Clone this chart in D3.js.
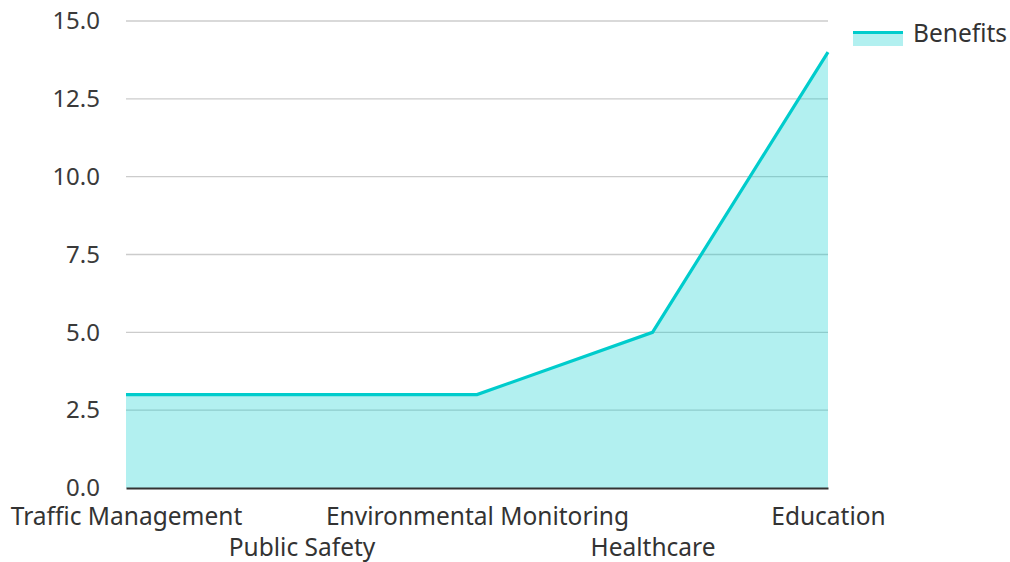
<!DOCTYPE html>
<html><head><meta charset="utf-8">
<script src="https://cdn.jsdelivr.net/npm/d3@7"></script>
<style>body{margin:0;background:#fff}svg{display:block;font-family:"Noto Sans","Open Sans",sans-serif}</style>
</head><body><svg id="c" width="1010" height="562"></svg>
<script>
const categories = ["Traffic Management","Public Safety","Environmental Monitoring","Healthcare","Education"];
const benefits = [3, 3, 3, 5, 14];
const yTicks = [0, 2.5, 5, 7.5, 10, 12.5, 15];
const seriesName = "Benefits";

const svg = d3.select("#c");
const m = {l:126, r:182, t:21, b:74};
const W = 1010, H = 562;
const x = d3.scalePoint().domain(categories).range([m.l, W - m.r]);
const y = d3.scaleLinear().domain([0, 15]).range([H - m.b, m.t]);
const teal = "#00cccc";

// grid
svg.append("g").selectAll("line").data(yTicks.slice(1)).join("line")
  .attr("x1", m.l).attr("x2", W - m.r)
  .attr("y1", d => y(d)).attr("y2", d => y(d))
  .attr("stroke", "#cccccc").attr("stroke-width", 1.3);

// area
svg.append("path").datum(benefits)
  .attr("d", d3.area().x((d,i) => x(categories[i])).y0(y(0)).y1(d => y(d)))
  .attr("fill", teal).attr("fill-opacity", 0.3);

svg.append("path").datum(benefits)
  .attr("d", d3.line().x((d,i) => x(categories[i])).y(d => y(d)))
  .attr("fill", "none").attr("stroke", teal).attr("stroke-width", 3.2);

// y axis
const ya = svg.append("g").attr("transform", `translate(${m.l},0)`)
  .call(d3.axisLeft(y).tickValues(yTicks).tickFormat(d3.format(".1f")).tickSize(0).tickPadding(26));
ya.select(".domain").remove();
ya.selectAll("text").attr("font-size", 24).attr("fill", "#3a3a3a").attr("font-family", "Noto Sans");

// x axis
const xa = svg.append("g").attr("transform", `translate(0,${y(0)})`)
  .call(d3.axisBottom(x).tickSize(0).tickPadding(0));
xa.select(".domain").attr("stroke", "#333").attr("stroke-width", 2);
xa.selectAll("text").attr("font-size", 24.5).attr("fill", "#333").attr("font-family", "Noto Sans")
  .attr("dy", null)
  .attr("y", (d,i) => i % 2 === 0 ? 37 : 68);

// legend
const lg = svg.append("g").attr("transform", "translate(853,0)");
lg.append("rect").attr("x", 0).attr("y", 33).attr("width", 50).attr("height", 13)
  .attr("fill", teal).attr("fill-opacity", 0.3);
lg.append("line").attr("x1", 0).attr("x2", 50).attr("y1", 32.5).attr("y2", 32.5)
  .attr("stroke", teal).attr("stroke-width", 3.2);
lg.append("text").attr("x", 60).attr("y", 42).attr("font-size", 24.5).attr("fill", "#333").text(seriesName);
</script></body></html>
